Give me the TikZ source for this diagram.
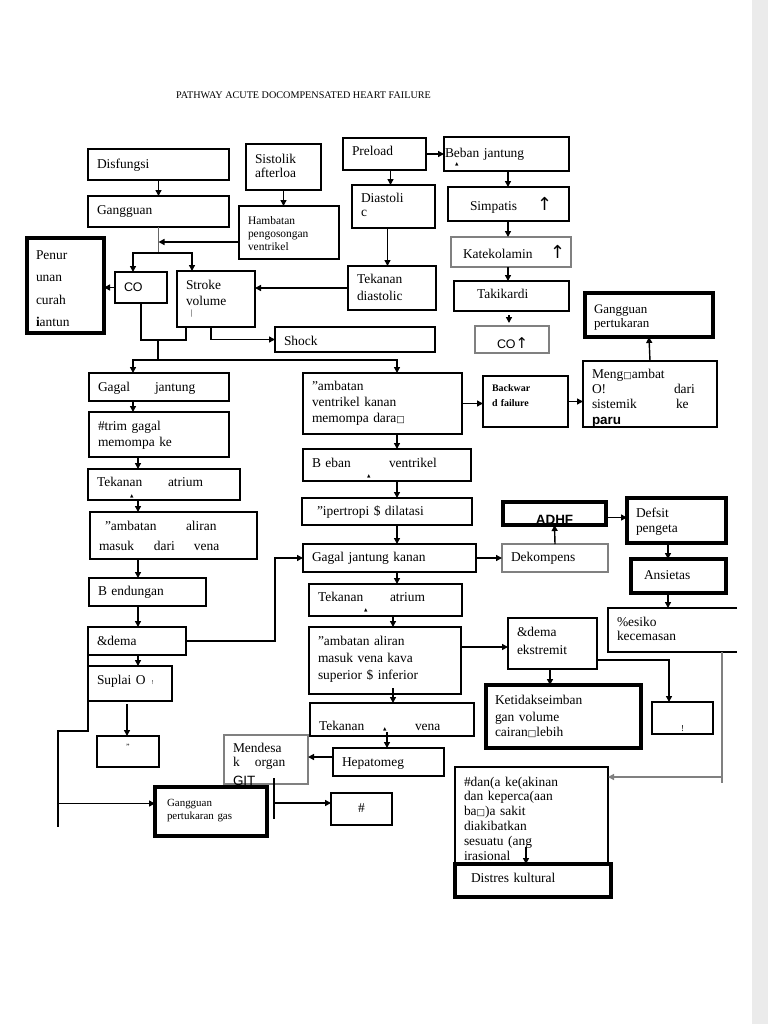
\documentclass[tikz,border=0pt]{standalone}
\usepackage{fontspec}
\setmainfont{Liberation Serif}
\newfontfamily\sansfont{Liberation Sans}
\newfontfamily\symfont{DejaVu Sans}
\usetikzlibrary{arrows.meta,calc,positioning}

\newcommand\smalltri{{\symfont\fontsize{4.5}{4.5}\selectfont ▲}}
\newcommand\sqbox{{\symfont\fontsize{9}{9}\selectfont □}}
\newcommand\uparr[1][18]{{\symfont\fontsize{#1}{#1}\selectfont ↑}}
\newcommand\trimark[2]{\rlap{\hspace*{#1bp}\raisebox{#2bp}{\smalltri}}}

\begin{document}
\begin{tikzpicture}[
            x=1bp, y=-1bp,
            box/.style={rectangle, draw, line width=1.4bp, inner xsep=9bp, inner ysep=0pt, outer sep=0pt,
                anchor=north west, align=left, font=\fontsize{13.5}{15}\selectfont},
            thickbox/.style={box, line width=3.5bp},
            greybox/.style={box, draw=black!50},
            wh/.style n args={3}{/utils/exec={\pgfmathsetmacro\boxtw{#1-18}\pgfmathsetmacro\boxtd{#2-#3}},
                minimum width=#1bp, text width=\boxtw bp, text height=#3bp, text depth=\boxtd bp},
            arrow/.style={-{Triangle[length=6bp,width=6bp]}, line width=1.4bp},
            line/.style={line width=1.4bp},
            greyline/.style={line width=1.4bp, draw=black!50}
        ]
            \useasboundingbox (0,0) rectangle (768,1024);
            \fill[white] (0,0) rectangle (768,1024);
            \fill[black!8] (752,0) rectangle (768,1024);

            \node[font=\fontsize{10.2}{12}\selectfont] (title) at (303.5,95) {PATHWAY ACUTE DOCOMPENSATED HEART FAILURE};

            % Left top
            \node[box, wh={141}{31}{19}] (disf) at (88,149) {Disfungsi};
            \node[box, wh={141}{31}{18}] (gang) at (88,196) {Gangguan};
            \node[box, wh={75}{46}{19}, line width=2bp, font=\fontsize{13.5}{14.5}\selectfont] (sist) at (246,144) {Sistolik\\afterloa};
            \node[box, wh={100}{53}{18}, font=\fontsize{11.5}{13.3}\selectfont] (hamb) at (239,206) {Hambatan\\pengosongan\\ventrikel};
            \node[box, wh={83}{32}{17}] (prel) at (343,138) {Preload};
            \node[box, wh={83}{43}{17}] (dias) at (352,185) {Diastoli\\c};
            \node[box, wh={88}{44}{17}, font=\fontsize{13.5}{18}\selectfont] (tekd) at (348,266) {Tekanan\\diastolic};
            \node[thickbox, wh={77}{95}{21}, font=\fontsize{13.5}{22.7}\selectfont] (penur) at (27,238) {Penur\\unan\\curah\\{\bfseries i}antun};
            \node[box, wh={52}{31}{19}, font=\sansfont\fontsize{12.5}{15}\selectfont] (co) at (115,272) {CO};
            \node[box, wh={78}{56}{18}, font=\fontsize{13.5}{17}\selectfont] (stroke) at (177,271) {Stroke\\volume\\[-7bp]\hspace*{5bp}{\fontsize{8}{8}\selectfont|}};
            \node[box, wh={160}{25}{18}] (shock) at (275,327) {Shock};

            % Right top
            \node[box, wh={125}{34}{20}] (beban) at (444,137) {\trimark{2}{-8}\hspace*{-8bp}Beban jantung};
            \node[box, wh={121}{34}{23}] (simp) at (448,187) {\makebox[80bp][l]{\hspace*{13bp}Simpatis}\uparr};
            \node[greybox, wh={120}{30}{21}] (kate) at (451,237) {\makebox[90bp][l]{\hspace*{3bp}Katekolamin}\uparr};
            \node[box, wh={115}{30}{17}] (taki) at (454,281) {\hspace*{14bp}Takikardi};
            \node[greybox, wh={74}{27}{22}, font=\sansfont\fontsize{12.5}{15}\selectfont] (co2) at (475,326) {\hspace*{13bp}CO\uparr[15]};
            \node[thickbox, wh={128}{44}{20}, font=\fontsize{13}{15}\selectfont] (gpr) at (585,293) {Gangguan\\pertukaran};

            % Left column
            \node[box, wh={140}{28}{18}] (gagal) at (89,373) {\makebox[57bp][l]{Gagal}jantung};
            \node[box, wh={140}{45}{18}, font=\fontsize{13.5}{17}\selectfont] (trim) at (89,412) {\#trim gagal\\memompa ke};
            \node[box, wh={152}{31}{17}] (tekl) at (88,469) {\trimark{33}{-11}\makebox[71bp][l]{Tekanan}atrium};
            \node[box, wh={167}{47}{18}, font=\fontsize{13.5}{21}\selectfont] (hambl) at (90,512) {\hspace*{6bp}\makebox[81bp][l]{"ambatan}aliran\\\makebox[55bp][l]{masuk}\makebox[40bp][l]{dari}vena};
            \node[box, wh={117}{28}{17}] (bend) at (89,578) {B endungan};
            \node[box, wh={98}{28}{18}] (edema) at (88,627) {\&dema};
            \node[box, wh={84}{35}{18}] (supl) at (88,666) {Suplai O\hspace{6bp}{\fontsize{6}{6}\selectfont !}};
            \node[box, wh={62}{31}{13}, align=center, font=\fontsize{8}{8}\selectfont] (qbox) at (97,736) {"};
            \node[greybox, wh={84}{49}{17}] (mend) at (224,735) {Mendesa\\\makebox[22bp][l]{k}organ\\[4bp]{\sansfont GIT}};
            \node[thickbox, wh={112}{49}{19}, font=\fontsize{11}{14}\selectfont] (ggas) at (155,787) {\hspace*{3bp}Gangguan\\\hspace*{3bp}pertukaran gas};
            \node[box, wh={61}{32}{19}, align=center] (hash) at (331,793) {\#};
            \node[box, wh={111}{28}{18}] (hepa) at (333,748) {Hepatomeg};

            % Middle column
            \node[box, wh={159}{61}{17}, line width=2bp, font=\fontsize{13.5}{16.5}\selectfont] (hambv) at (303,373) {"ambatan\\ventrikel kanan\\memompa dara\sqbox};
            \node[box, wh={168}{32}{18}] (bebv) at (303,449) {\trimark{55}{-10}\makebox[77bp][l]{B eban}ventrikel};
            \node[box, wh={170}{27}{17}] (hiper) at (302,498) {\hspace*{6bp}"ipertropi \$ dilatasi};
            \node[box, wh={173}{28}{17}, line width=2bp] (gjk) at (303,544) {Gagal jantung kanan};
            \node[box, wh={153}{32}{17}] (tekr) at (309,584) {\trimark{46}{-10}\makebox[72bp][l]{Tekanan}atrium};
            \node[box, wh={152}{67}{18}, line width=2bp, font=\fontsize{13.5}{17.5}\selectfont] (hambk) at (309,627) {"ambatan aliran\\masuk vena kava\\superior \$ inferior};
            \node[box, wh={164}{33}{27}] (tekv) at (310,703) {\trimark{64}{0}\makebox[96bp][l]{Tekanan}vena};

            % Right column
            \node[box, wh={85}{51}{15}, font=\bfseries\fontsize{10}{16}\selectfont] (back) at (483,376) {Backwar\\d failure};
            \node[box, wh={134}{66}{17}, font=\fontsize{13.5}{15.5}\selectfont] (meng) at (583,361) {Meng\sqbox ambat\\\makebox[82bp][l]{O!}dari\\\makebox[84bp][l]{sistemik}ke\\{\sansfont\bfseries paru}};
            \node[thickbox, wh={103}{23}{22}, align=center, font=\sansfont\bfseries\fontsize{13.5}{15}\selectfont] (adhf) at (503,502) {ADHF};
            \node[greybox, wh={106}{28}{17}] (dek) at (502,544) {Dekompens};
            \node[thickbox, wh={99}{45}{19}, font=\fontsize{13.5}{16}\selectfont] (defs) at (627,498) {Defsit\\pengeta};
            \node[thickbox, wh={95}{34}{20}] (ansi) at (631,559) {\hspace*{4bp}Ansietas};
            \node[box, draw=none, wh={129}{44}{18}] (resk) at (608,608) {\%esiko\\kecemasan};
            \node[box, wh={89}{51}{18}, line width=2bp, font=\fontsize{13.5}{19}\selectfont] (edx) at (508,618) {\&dema\\ekstremit};
            \node[box, wh={61}{32}{29}, align=center, font=\fontsize{9}{9}\selectfont] (excl) at (652,702) {!};
            \node[thickbox, wh={155}{63}{19}] (ketid) at (486,685) {Ketidakseimban\\[3bp]gan volume\\cairan\sqbox lebih};
            \node[box, wh={153}{96}{19}] (dan) at (455,767) {\#dan(a ke(akinan\\dan keperca(aan\\ba\sqbox)a sakit\\diakibatkan\\sesuatu (ang\\irasional};
            \node[thickbox, wh={156}{33}{18}] (dist) at (455,864) {\hspace*{7bp}Distres kultural};
            \draw[line] (resk.north east) -- (resk.north west) -- (resk.south west) -- (resk.south east);
            \draw[line width=3.5bp] (adhf.south west) -- (adhf.south east);

            % Junctions
            \coordinate (split1) at ($(gang.south)+(0,26)$);
            \coordinate (hj) at ($(hamb.west)+(0,9.5)$);
            \coordinate (merge) at ($(co.south)+(0,37)$);
            \coordinate (split2) at ($(merge)+(17,20)$);
            \coordinate (loop) at ($(edema.south west)+(-30,76)$);
            \coordinate (ggl) at ($(ggas.west)+(0,-8)$);
            \coordinate (mj) at ($(mend.south west)+(50,-6)$);
            \coordinate (hw) at ($(hash.west)+(0,-6)$);
            \coordinate (hpw) at ($(hepa.west)+(0,-5)$);
            \coordinate (kj) at ($(hambk.north east)+(0,20)$);
            \coordinate (rj) at ($(resk.south west)+(114,125)$);
            \coordinate (aj) at ($(adhf.east)+(0,4)$);

            % Arrows
            \draw[arrow] (disf) -- (gang);
            \draw[arrow] (sist.south) -- (sist.south |- hamb.north);
            \draw[arrow] ([xshift=6bp]prel.south) -- ([xshift=6bp]prel.south |- dias.north);
            \draw[arrow] (prel.east) -- (prel.east -| beban.west);
            \draw[arrow] ([xshift=-6bp]dias.south) -- ([xshift=-6bp]dias.south |- tekd.north);
            \draw[arrow] (tekd.west) -- (tekd.west -| stroke.east);
            \draw[line, black!60] (gang.south) -- (split1);
            \draw[arrow] (hj) -- (hj -| gang.south);
            \draw[arrow] (split1) -| ($(co.north west)+(18,0)$);
            \draw[arrow] (split1) -| ($(stroke.north west)+(15,0)$);
            \draw[arrow] (co.west) -- (co.west -| penur.east);
            \draw[line] (co.south) -- (merge) -| ($(stroke.south west)+(9,0)$);
            \draw[line] (merge -| split2) -- (split2);
            \draw[arrow] (split2) -| ($(gagal.north west)+(44,0)$);
            \draw[arrow] (split2) -| ($(hambv.north west)+(94,0)$);
            \draw[arrow] ($(stroke.south west)+(34,0)$) |- (shock.west);

            \draw[arrow] ($(gagal.south west)+(44,0)$) -- ($(trim.north west)+(44,0)$);
            \draw[arrow] ($(trim.south west)+(49,0)$) -- ($(tekl.north west)+(50,0)$);
            \draw[arrow] ($(tekl.south west)+(50,0)$) -- ($(hambl.north west)+(48,0)$);
            \draw[arrow] ($(hambl.south west)+(48,0)$) -- ($(bend.north west)+(49,0)$);
            \draw[arrow] ($(bend.south west)+(49,0)$) -- ($(edema.north west)+(50,0)$);
            \draw[arrow] ($(edema.south west)+(50,0)$) -- ($(supl.north west)+(50,0)$);
            \draw[arrow] ($(supl.south west)+(39,3)$) -- ($(qbox.north west)+(30,0)$);
            \draw[line] (edema.south west) |- (loop) -- ++(0,96);
            \draw[arrow] (loop |- ggl) -- (ggl);
            \draw[arrow] (edema.east) -- ++(89,0) |- (gjk.west);
            \draw[line] (mj) -- ++(0,41);
            \draw[arrow] (mj |- hw) -- (hw);
            \draw[arrow] (hpw) -- (hpw -| mend.east);

            \draw[arrow] ($(hambv.south west)+(94,0)$) -- ($(bebv.north west)+(94,0)$);
            \draw[arrow] ($(bebv.south west)+(94,0)$) -- ($(hiper.north west)+(95,0)$);
            \draw[arrow] ($(hiper.south west)+(95,0)$) -- ($(gjk.north west)+(94,0)$);
            \draw[arrow] ($(gjk.south west)+(94,0)$) -- ($(tekr.north west)+(88,0)$);
            \draw[arrow] ($(tekr.south west)+(84,0)$) -- ($(hambk.north west)+(84,0)$);
            \draw[arrow] ($(hambk.south west)+(84,-6)$) -- ($(tekv.north west)+(83,0)$);
            \draw[arrow] ($(tekv.south west)+(77,-4)$) -- ($(hepa.north west)+(54,0)$);
            \draw[arrow] (kj) -- (kj -| edx.west);
            \draw[arrow] ($(edx.south west)+(42,0)$) -- ($(ketid.north west)+(64,0)$);
            \draw[arrow] ($(edx.south east)+(0,-9)$) -| ($(excl.north west)+(17,0)$);
            \draw[greyline] ($(resk.south west)+(114,0)$) -- ++(0,131);
            \draw[arrow, black!50] (rj) -- (rj -| dan.east);
            \draw[arrow] ($(ansi.south west)+(37,0)$) -- ($(resk.north west)+(60,0)$);
            \draw[arrow] ($(defs.south west)+(41,0)$) -- ($(ansi.north west)+(37,0)$);
            \draw[arrow] (aj) -- (aj -| defs.west);
            \draw[arrow] (dek.north) -- (adhf.south);
            \draw[arrow] (gjk.east) -- (dek.west);
            \draw[arrow] (hambv.east) -- (hambv.east -| back.west);
            \draw[arrow] (back.east) -- (back.east -| meng.west);
            \draw[arrow] (meng.north) -- (gpr.south);
            \draw[arrow] ($(beban.south west)+(64,0)$) -- ($(simp.north west)+(60,0)$);
            \draw[arrow] ($(simp.south west)+(60,0)$) -- ($(kate.north west)+(57,0)$);
            \draw[arrow] ($(kate.south west)+(57,0)$) -- ($(taki.north west)+(54,0)$);
            \draw[arrow, shorten <=4bp, shorten >=3bp] ($(taki.south west)+(55,0)$) -- ($(co2.north west)+(34,0)$);
            \draw[arrow] ($(dan.south west)+(71,-16)$) -- ($(dist.north west)+(71,0)$);
        \end{tikzpicture}
\end{document}
